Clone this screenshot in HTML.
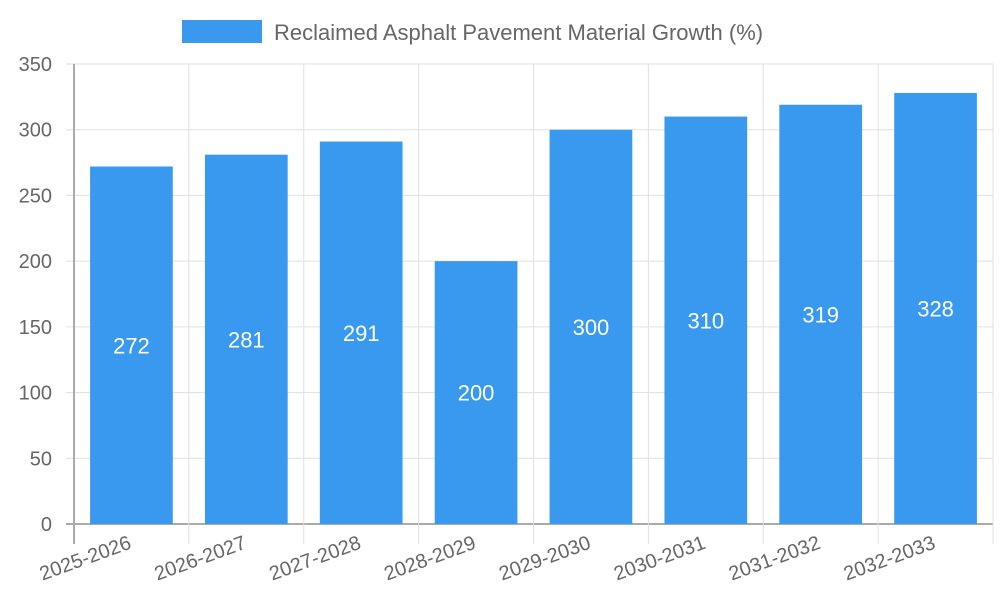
<!DOCTYPE html>
<html><head><meta charset="utf-8"><style>
body{margin:0;background:#fff;}
svg text{font-family:"Liberation Sans",sans-serif;}
</style></head><body>
<svg id="chart" width="1000" height="600">
<g id="legend">
<rect x="182" y="20" width="80" height="23" fill="#3899ee"/>
<text x="274" y="40" font-size="22" fill="#666">Reclaimed Asphalt Pavement Material Growth (%)</text>
</g>
<g id="grid"></g><g id="bars"></g><g id="labels"></g>
</svg>
<script>
const categories=["2025-2026","2026-2027","2027-2028","2028-2029","2029-2030","2030-2031","2031-2032","2032-2033"];
const values=[272,281,291,200,300,310,319,328];
const yTicks=[0,50,100,150,200,250,300,350];
const NS="http://www.w3.org/2000/svg";
const x0=74,x1=993,y0=524,y1=64,yMax=350;
const band=(x1-x0)/categories.length;
const y=v=>y0-(v/yMax)*(y0-y1);
const xb=i=>x0+i*band;
function mk(t,a,p){const e=document.createElementNS(NS,t);for(const k in a)e.setAttribute(k,a[k]);p.appendChild(e);return e;}
const grid=document.getElementById('grid'),bars=document.getElementById('bars'),labels=document.getElementById('labels');
yTicks.forEach(t=>{
 const l=mk('line',{x1:x0-8,x2:x1,y1:y(t),y2:y(t),stroke:t===0?'#aaa':'#e0e0e0','stroke-width':t===0?2:1},grid);
 
 
 const tx=mk('text',{x:x0-22,y:y(t)+7,'text-anchor':'end','font-size':20,fill:'#666'},grid);
 tx.textContent=t;
 
 
});
for(let i=0;i<=categories.length;i++){
 const l=mk('line',{x1:xb(i),x2:xb(i),y1:y1,y2:y0+20,stroke:i===0?'#aaa':'#e0e0e0','stroke-width':i===0?2:1},grid);
 
 
}
categories.forEach((c,i)=>{
 const bw=band*0.72,bx=xb(i)+(band-bw)/2;
 const r=mk('rect',{x:bx,y:y(values[i]),width:bw,height:y0-y(values[i]),fill:'#3899ee'},bars);
 
 
 const v=mk('text',{x:bx+bw/2,y:(y(values[i])+y0)/2+8,'text-anchor':'middle','font-size':22,fill:'#fff'},labels);
 v.textContent=values[i];
 
 
 const cx=xb(i)+band/2+1;
 const t=mk('text',{x:cx,y:548,'text-anchor':'end','font-size':20,fill:'#666',transform:`rotate(-20 ${cx} 548)`},labels);
 t.textContent=c;
 
 
});
</script>
</body></html>
